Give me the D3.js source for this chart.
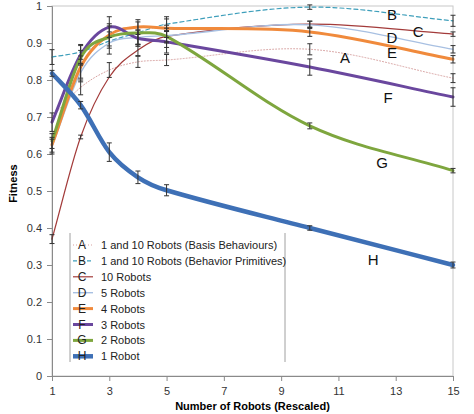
<!DOCTYPE html>
<html>
<head>
<meta charset="UTF-8">
<script src="https://cdn.jsdelivr.net/npm/d3@7"></script>
<style>
  body { margin: 0; background: #fff; }
  text { font-family: "Liberation Sans", Arial, sans-serif; }
</style>
</head>
<body>
<svg id="chart" width="474" height="414"></svg>
<script>
// data
var xs = [1, 2, 3, 4, 5, 10, 15];
var seriesNames = ["1 and 10 Robots (Basis Behaviours)", "1 and 10 Robots (Behavior Primitives)",
  "10 Robots", "5 Robots", "4 Robots", "3 Robots", "2 Robots", "1 Robot"];
var letters = ["A", "B", "C", "D", "E", "F", "G", "H"];
var valA = [0.70, 0.78, 0.827, 0.849, 0.854, 0.883, 0.805];
var valB = [0.862, 0.876, 0.905, 0.928, 0.951, 0.997, 0.96];
var valC = [0.37, 0.646, 0.808, 0.881, 0.918, 0.951, 0.924];
var valD = [0.62, 0.82, 0.90, 0.915, 0.92, 0.949, 0.883];
var valE = [0.625, 0.835, 0.922, 0.943, 0.94, 0.93, 0.856];
var valF = [0.686, 0.868, 0.943, 0.913, 0.903, 0.835, 0.754];
var valG = [0.635, 0.86, 0.916, 0.927, 0.918, 0.676, 0.555];
var valH = [0.818, 0.732, 0.605, 0.537, 0.502, 0.40, 0.30];
var errA = [0.0, 0.02, 0.02, 0.015, 0.015, 0.015, 0.012];
var errB = [0.02, 0.02, 0.0, 0.0, 0.02, 0.006, 0.015];
var errC = [0.012, 0.005, 0.0, 0.015, 0.015, 0.008, 0.006];
var errD = [0.02, 0.025, 0.03, 0.02, 0.02, 0.01, 0.01];
var errE = [0.02, 0.03, 0.03, 0.02, 0.025, 0.012, 0.01];
var errF = [0.025, 0.025, 0.028, 0.022, 0.03, 0.022, 0.025];
var errG = [0.02, 0.02, 0.03, 0.03, 0.03, 0.008, 0.006];
var errH = [0.008, 0.01, 0.025, 0.017, 0.015, 0.006, 0.008];
// where the big letters sit, in data units
var labelX = [11.23, 12.87, 13.78, 12.87, 12.87, 12.73, 12.52, 12.21];
var labelY = [0.862, 0.978, 0.930, 0.916, 0.873, 0.754, 0.578, 0.314];
var xTicks = [1, 3, 5, 7, 9, 11, 13, 15];
var yTicks = [0, 0.1, 0.2, 0.3, 0.4, 0.5, 0.6, 0.7, 0.8, 0.9, 1];

var styles = [
  { color: "#d7a1a0", width: 1, dash: "1,2" },
  { color: "#3f9fbb", width: 1.2, dash: "4,3" },
  { color: "#a33b3a", width: 1.2, dash: null },
  { color: "#a8c0e2", width: 1.4, dash: null },
  { color: "#f08a3c", width: 3, dash: null },
  { color: "#6a479e", width: 3, dash: null },
  { color: "#7ea63e", width: 3, dash: null },
  { color: "#3e70b6", width: 4.5, dash: null }
];
var vals = [valA, valB, valC, valD, valE, valF, valG, valH];
var errs = [errA, errB, errC, errD, errE, errF, errG, errH];

var svg = d3.select("#chart");
var plotL = 52, plotR = 453, plotT = 6, plotB = 376;

var x = d3.scaleLinear().domain([1, 15]).range([plotL, plotR]);
var y = d3.scaleLinear().domain([0, 1]).range([plotB, plotT]);

// plot frame
svg.append("rect")
  .attr("x", plotL).attr("y", plotT)
  .attr("width", plotR - plotL).attr("height", plotB - plotT)
  .attr("fill", "none").attr("stroke", "#c8c8c8").attr("stroke-width", 1);

var yAxis = svg.append("g").attr("transform", "translate(" + plotL + ",0)")
  .call(d3.axisLeft(y).tickValues(yTicks).tickSize(5).tickPadding(5)
    .tickFormat(function(d) { return d === 0 || d === 1 ? d3.format("d")(d) : d3.format(".1f")(d); }));
var xAxis = svg.append("g").attr("transform", "translate(0," + plotB + ")")
  .call(d3.axisBottom(x).tickValues(xTicks).tickSize(5).tickPadding(6));
[xAxis, yAxis].forEach(function(g) {
  g.select(".domain").attr("stroke", "#8a8a8a");
  g.selectAll(".tick line").attr("stroke", "#8a8a8a");
  g.selectAll("text").attr("font-size", 11).attr("fill", "#333")
    .attr("font-family", "Liberation Sans, Arial, sans-serif");
});

svg.append("text")
  .attr("transform", "translate(17," + y(0.52) + ") rotate(-90)")
  .attr("text-anchor", "middle")
  .attr("font-size", 11).attr("font-weight", "bold")
  .text("Fitness");
svg.append("text")
  .attr("x", (plotL + plotR) / 2).attr("y", 410)
  .attr("text-anchor", "middle")
  .attr("font-size", 11).attr("font-weight", "bold")
  .text("Number of Robots (Rescaled)");

// smooth line like Excel's: hermite spline, tangent from the two neighbours
function smoothPath(pts) {
  var n = pts.length, m = [];
  for (var i = 0; i < n; i++) {
    var a = pts[Math.max(0, i - 1)], b = pts[Math.min(n - 1, i + 1)];
    m.push((b[1] - a[1]) / (b[0] - a[0]));
  }
  var p = d3.path();
  p.moveTo(pts[0][0], pts[0][1]);
  for (var j = 0; j < n - 1; j++) {
    var h = (pts[j + 1][0] - pts[j][0]) / 3;
    p.bezierCurveTo(pts[j][0] + h, pts[j][1] + m[j] * h,
      pts[j + 1][0] - h, pts[j + 1][1] - m[j + 1] * h,
      pts[j + 1][0], pts[j + 1][1]);
  }
  return p.toString();
}

// lines drawn back-to-front: A first, H last
vals.forEach(function(v, i) {
  var pts = xs.map(function(xv, j) { return [x(xv), y(v[j])]; });
  var st = styles[i];
  svg.append("path")
    .attr("d", smoothPath(pts))
    .attr("fill", "none")
    .attr("stroke", st.color)
    .attr("stroke-width", st.width)
    .attr("stroke-dasharray", st.dash)
    .attr("stroke-linecap", "round");
});

// error bars
vals.forEach(function(v, i) {
  var g = svg.append("g").attr("stroke", "#333").attr("stroke-width", 1);
  xs.forEach(function(xv, j) {
    var e = errs[i][j];
    if (!e) return;
    var cx = x(xv);
    var y1 = y(v[j] + e), y2 = y(v[j] - e);
    g.append("line").attr("x1", cx).attr("x2", cx).attr("y1", y1).attr("y2", y2);
    g.append("line").attr("x1", cx - 2.5).attr("x2", cx + 2.5).attr("y1", y1).attr("y2", y1);
    g.append("line").attr("x1", cx - 2.5).attr("x2", cx + 2.5).attr("y1", y2).attr("y2", y2);
  });
});

// big letters inside the plot
letters.forEach(function(l, i) {
  svg.append("text")
    .attr("x", x(labelX[i])).attr("y", y(labelY[i]))
    .attr("text-anchor", "middle").attr("dominant-baseline", "central")
    .attr("font-size", 15).attr("fill", "#111")
    .text(l);
});

// legend
var lg = svg.append("g");
var lgTop = 245, lgStep = 15.9;
lg.append("line").attr("x1", 70).attr("x2", 70).attr("y1", 233).attr("y2", 362)
  .attr("stroke", "#a0a0a0");
lg.append("line").attr("x1", 285).attr("x2", 285).attr("y1", 233).attr("y2", 362)
  .attr("stroke", "#a0a0a0");
seriesNames.forEach(function(name, i) {
  var yy = lgTop + i * lgStep;
  var st = styles[i];
  lg.append("line").attr("x1", 73).attr("x2", 93).attr("y1", yy).attr("y2", yy)
    .attr("stroke", st.color).attr("stroke-width", st.width)
    .attr("stroke-dasharray", st.dash);
  lg.append("text").attr("x", 82).attr("y", yy)
    .attr("text-anchor", "middle").attr("dominant-baseline", "central")
    .attr("font-size", 12).attr("fill", "#222")
    .text(letters[i]);
  lg.append("text").attr("x", 101).attr("y", yy)
    .attr("dominant-baseline", "central")
    .attr("font-size", 11).attr("fill", "#222")
    .text(name);
});
</script>
</body>
</html>
